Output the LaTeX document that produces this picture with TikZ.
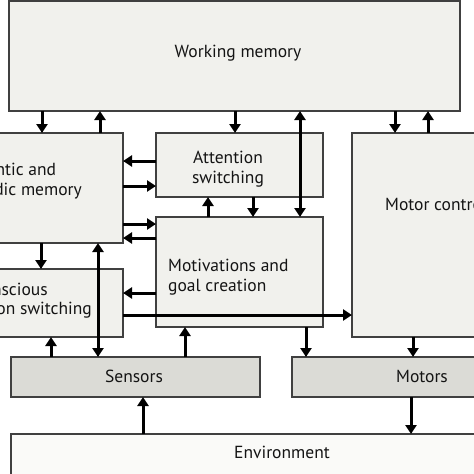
\documentclass[tikz,border=0pt]{standalone}
\usepackage{fontspec}
\setmainfont{PT Sans}
\usetikzlibrary{arrows.meta}
\definecolor{boxfill}{HTML}{F1F1ED}
\definecolor{grayfill}{HTML}{DBDBD6}
\definecolor{envfill}{HTML}{FAFAF8}
\definecolor{edge}{HTML}{404040}
\begin{document}
\begin{tikzpicture}[x=1pt,y=-1pt,
  box/.style={draw=edge, line width=1.5pt, fill=boxfill, inner sep=0pt, outer sep=0pt, anchor=north west, rectangle},
  lbl/.style={font=\fontsize{17.5}{21}\selectfont, inner sep=0pt, text=black!92},
  arr/.style={line width=3pt, -{Triangle[length=9pt,width=11pt]}},
  darr/.style={line width=3pt, {Triangle[length=9pt,width=11pt]}-{Triangle[length=9pt,width=11pt]}}]
\useasboundingbox (0,0) rectangle (474,474);
\clip (0,0) rectangle (474,474);
\fill[white] (0,0) rectangle (474,474);
% boxes
\node[box, minimum width=451pt, minimum height=110pt] (wm) at (9,1) {};
\node[box, minimum width=163pt, minimum height=110pt] (sem) at (-40,133) {};
\node[box, minimum width=167pt, minimum height=64pt] (att) at (156,133) {};
\node[box, minimum width=167pt, minimum height=110pt] (mot) at (156,217) {};
\node[box, minimum width=163pt, minimum height=68pt] (con) at (-40,269) {};
\node[box, minimum width=200pt, minimum height=204pt] (mc) at (352,133) {};
\node[box, fill=grayfill, minimum width=249pt, minimum height=40pt] (sen) at (11,357) {};
\node[box, fill=grayfill, minimum width=260pt, minimum height=40pt] (mtr) at (292,357) {};
\node[box, fill=envfill, minimum width=541pt, minimum height=80pt] (env) at (11,434) {};
% labels
\node[lbl, anchor=base] (wmt) at (238,57) {Working memory};
\node[lbl, anchor=base east] (sem2) at (82,195) {episodic memory};
\node[lbl, anchor=base west] (sem1) at (sem2.base west |- 0,175) {Semantic and};
\node[lbl, anchor=base] (att1) at (228,163) {Attention};
\node[lbl, anchor=base] (att2) at (228,183) {switching};
\node[lbl, anchor=base west] (mot1) at (168,271) {Motivations and};
\node[lbl, anchor=base west] (mot2) at (168,291) {goal creation};
\node[lbl, anchor=base east] (con2) at (92,314) {attention switching};
\node[lbl, anchor=base west] (con1) at (con2.base west |- 0,295) {Subconscious};
\node[lbl, anchor=base west] (mct) at (385,210) {Motor control};
\node[lbl, anchor=base] (sent) at (134,382) {Sensors};
\node[lbl, anchor=base] (mtrt) at (422,382) {Motors};
\node[lbl, anchor=base] (envt) at (282,458) {Environment};
% connectors
\draw[arr] (42,0 |- wm.south) -- (42,0 |- sem.north);
\draw[arr] (100,0 |- sem.north) -- (100,0 |- wm.south);
\draw[arr] (235,0 |- wm.south) -- (235,0 |- att.north);
\draw[darr] (300,0 |- wm.south) -- (300,0 |- mot.north);
\draw[arr] (395,0 |- wm.south) -- (395,0 |- mc.north);
\draw[arr] (428,0 |- mc.north) -- (428,0 |- wm.south);
\draw[arr] (att.west |- 0,161) -- (sem.east |- 0,161);
\draw[arr] (sem.east |- 0,186) -- (att.west |- 0,186);
\draw[arr] (sem.east |- 0,224) -- (mot.west |- 0,224);
\draw[arr] (mot.west |- 0,238) -- (sem.east |- 0,238);
\draw[arr] (208,0 |- mot.north) -- (208,0 |- att.south);
\draw[arr] (253,0 |- att.south) -- (253,0 |- mot.north);
\draw[arr] (41,0 |- sem.south) -- (41,0 |- con.north);
\draw[darr] (98,0 |- sem.south) -- (98,0 |- sen.north);
\draw[arr] (mot.west |- 0,293) -- (con.east |- 0,293);
\draw[arr] (con.east |- 0,315) -- (mc.west |- 0,315);
\draw[arr] (51,0 |- sen.north) -- (51,0 |- con.south);
\draw[arr] (185,0 |- sen.north) -- (185,0 |- mot.south);
\draw[arr] (306,0 |- mot.south) -- (306,0 |- mtr.north);
\draw[arr] (413,0 |- mc.south) -- (413,0 |- mtr.north);
\draw[arr] (143,0 |- env.north) -- (143,0 |- sen.south);
\draw[arr] (411,0 |- mtr.south) -- (411,0 |- env.north);
\end{tikzpicture}
\end{document}
